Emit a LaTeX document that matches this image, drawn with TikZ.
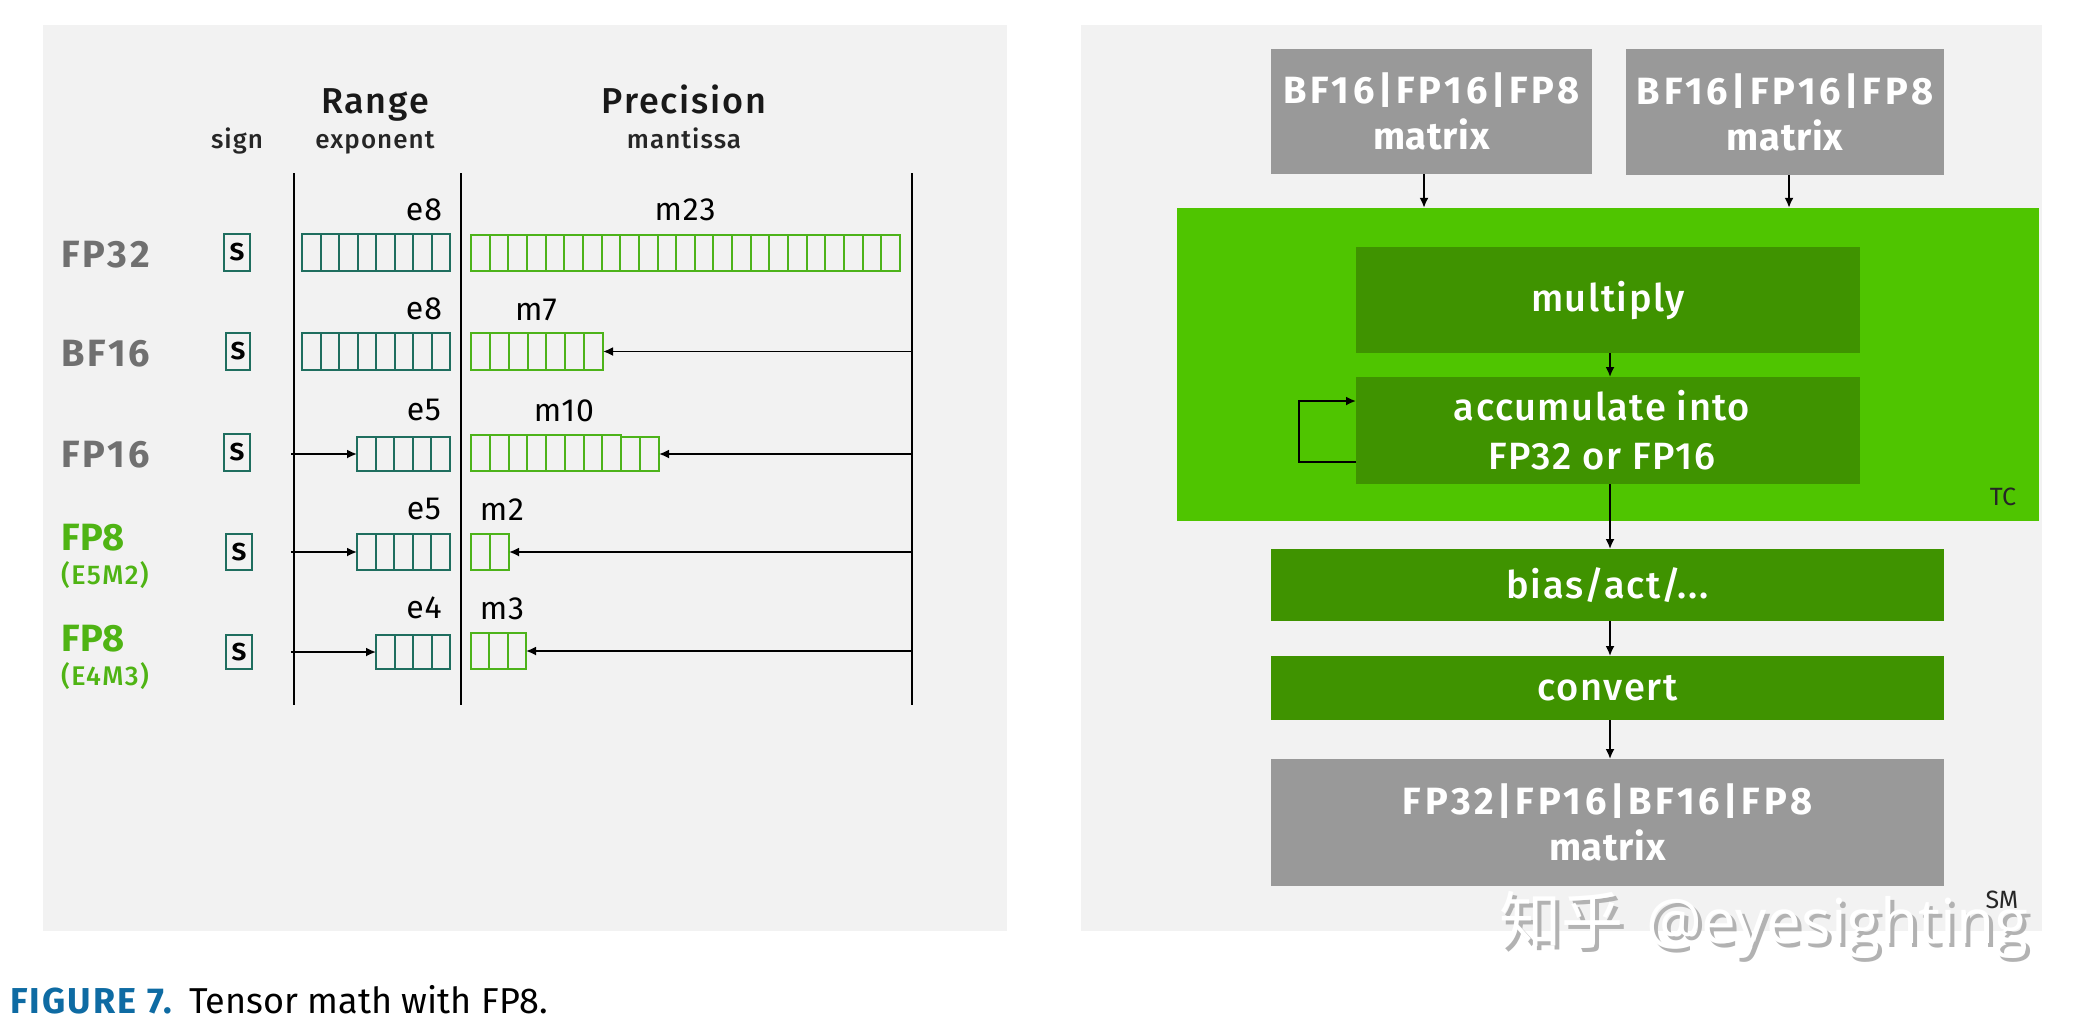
\documentclass[tikz,border=0pt]{standalone}
\usepackage{fontspec}
\setmainfont{Fira Sans}
\newfontfamily\medf{Fira Sans Medium}
\newfontfamily\cjkwm{Noto Sans CJK SC}
\newfontfamily\wmlatin{Open Sans}
\usetikzlibrary{arrows.meta,calc}
\definecolor{panelgray}{HTML}{F2F2F2}
\definecolor{tcgreen}{HTML}{4FC500}
\definecolor{darkgreen}{HTML}{3F9300}
\definecolor{blockgray}{HTML}{999999}
\definecolor{teal}{HTML}{1F6E5F}
\definecolor{mantgreen}{HTML}{4DB31A}
\definecolor{labelgray}{HTML}{707070}
\definecolor{labelgreen}{HTML}{4FB414}
\definecolor{capblue}{HTML}{0E6BA3}
\newcommand\fs[1]{\fontsize{#1}{#1}\selectfont}
\newcommand\ls[1]{\addfontfeature{LetterSpace=#1}}
\newcommand\wmtext{{\cjkwm 知乎}\hspace{23pt}{\wmlatin @eyesighting}}
\tikzset{
  x=1pt,y=-1pt,
  arr/.style={draw=black,line width=1.8pt,-{Latex[length=10pt,width=9pt]}},
  plain/.style={draw=black,line width=1.8pt},
  block/.style={inner sep=0pt,outer sep=0pt,text=white,align=center},
  grayblock/.style={block,fill=blockgray,font=\fs{38}\bfseries},
  greenblock/.style={block,fill=darkgreen,font=\fs{38}\medf\ls{4}},
  regline/.style={line width=2pt},
  rowlabel/.style={anchor=base west,inner sep=0pt,font=\fs{38}\bfseries\ls{8}},
  fplabel/.style={anchor=base west,inner sep=0pt,font=\fs{38}\bfseries\ls{1}},
  sublabel/.style={anchor=base west,inner sep=0pt,font=\fs{27}\medf\ls{5}},
  head/.style={anchor=base,inner sep=0pt,font=\fs{36}\medf\ls{5},text=black!90},
  subhead/.style={anchor=base,inner sep=0pt,font=\fs{26}\medf\ls{4},text=black!85},
  bits/.style={anchor=base,inner sep=0pt,font=\fs{32}\ls{3},text=black},
  signbox/.style={draw=teal,line width=2pt,inner sep=0pt,outer sep=0pt,font=\fs{32}\medf,text=black},
  tag/.style={anchor=base,inner sep=0pt,font=\fs{25},text=black!85},
}
% name, x1, y1, x2, y2, cells, colour
\newcommand\regbox[7]{%
  \pgfmathsetmacro\rw{#4-#2}\pgfmathsetmacro\rh{#5-#3}%
  \pgfmathsetmacro\rcx{(#2+#4)/2}\pgfmathsetmacro\rcy{(#3+#5)/2}%
  \node[draw=#7,regline,inner sep=0pt,outer sep=0pt,minimum width=\rw pt,minimum height=\rh pt] (#1) at (\rcx,\rcy) {};
  \foreach \k in {1,...,#6}{\pgfmathsetmacro\cx{#2+\k*(#4-#2)/#6}%
    \ifnum\k<#6\relax\draw[#7,regline] (\cx,#3) -- (\cx,#5);\fi}
}
% name, x1, y1, x2, y2, style, text
\newcommand\blockbox[7]{%
  \pgfmathsetmacro\rw{#4-#2}\pgfmathsetmacro\rh{#5-#3}%
  \pgfmathsetmacro\rcx{(#2+#4)/2}\pgfmathsetmacro\rcy{(#3+#5)/2}%
  \node[#6,minimum width=\rw pt,minimum height=\rh pt] (#1) at (\rcx,\rcy) {#7};
}
\newcommand\signcell[5]{%
  \pgfmathsetmacro\rw{#3-#2}\pgfmathsetmacro\rh{#5-#4}%
  \pgfmathsetmacro\rcx{(#2+#3)/2}\pgfmathsetmacro\rcy{(#4+#5)/2}%
  \node[signbox,minimum width=\rw pt,minimum height=\rh pt] (#1) at (\rcx,\rcy) {s};
}
\begin{document}
\begin{tikzpicture}
\useasboundingbox (0,0) rectangle (2083,1026);
\fill[white] (0,0) rectangle (2083,1026);
% panels
\fill[panelgray] (43,25) rectangle (1007,931);
\fill[panelgray] (1081,25) rectangle (2042,931);

% ---- left panel
\node[head] (hrange) at (375,113) {Range};
\node[head] (hprec) at (684,113) {Precision};
\node[subhead] (hsign) at (237,148) {sign};
\node[subhead] (hexp) at (375,148) {exponent};
\node[subhead] (hmant) at (684,148) {mantissa};

\coordinate (la) at (294,173); \coordinate (lb) at (294,705);
\coordinate (ma) at (461,173); \coordinate (mb) at (461,705);
\coordinate (ra) at (912,173); \coordinate (rb) at (912,705);
\draw[plain] (la) -- (lb);
\draw[plain] (ma) -- (mb);
\draw[plain] (ra) -- (rb);

\node[rowlabel,text=labelgray] (l1) at (61,267) {FP32};
\node[rowlabel,text=labelgray] (l2) at (61,366) {BF16};
\node[rowlabel,text=labelgray] (l3) at (61,467) {FP16};
\node[fplabel,text=labelgreen] (l4) at (61,550) {FP8};
\node[sublabel,text=labelgreen] (l4b) at (61,584) {(E5M2)};
\node[fplabel,text=labelgreen] (l5) at (61,651) {FP8};
\node[sublabel,text=labelgreen] (l5b) at (61,685) {(E4M3)};

\signcell{s1}{224}{250}{234}{271}
\signcell{s2}{226}{250}{333}{370}
\signcell{s3}{224}{250}{434}{471}
\signcell{s4}{226}{252}{534}{570}
\signcell{s5}{226}{252}{635}{669}

\regbox{e1}{302}{234}{450}{271}{8}{teal}
\regbox{e2}{302}{333}{450}{370}{8}{teal}
\regbox{e3}{357}{437}{450}{471}{5}{teal}
\regbox{e4}{357}{534}{450}{570}{5}{teal}
\regbox{e5}{376}{635}{450}{669}{4}{teal}

\regbox{m1}{471}{235}{900}{271}{23}{mantgreen}
\regbox{m2}{471}{333}{603}{370}{7}{mantgreen}
\regbox{m3a}{471}{435}{621}{471}{8}{mantgreen}
\regbox{m3}{621}{437}{659}{471}{2}{mantgreen}
\regbox{m4}{471}{534}{509}{570}{2}{mantgreen}
\regbox{m5}{471}{633}{526}{669}{3}{mantgreen}

\node[bits] (te1) at (424,220) {e8};
\node[bits] (te2) at (424,319) {e8};
\node[bits] (te3) at (424,420) {e5};
\node[bits] (te4) at (424,519) {e5};
\node[bits] (te5) at (424,618) {e4};
\node[bits] (tm1) at (685,220) {m23};
\node[bits] (tm2) at (536,320) {m7};
\node[bits] (tm3) at (564,421) {m10};
\node[bits] (tm4) at (502,520) {m2};
\node[bits] (tm5) at (502,619) {m3};

\draw[arr] ([xshift=-3pt]la |- e3.west) -- (e3.west);
\draw[arr] ([xshift=-3pt]la |- e4.west) -- (e4.west);
\draw[arr] ([xshift=-3pt]la |- e5.west) -- (e5.west);
\draw[arr] (ra |- m2.east) -- (m2.east);
\draw[arr] (ra |- m3.east) -- (m3.east);
\draw[arr] (ra |- m4.east) -- (m4.east);
\draw[arr] (ra |- m5.east) -- (m5.east);

% ---- right panel
\blockbox{in1}{1271}{49}{1592}{174}{grayblock}{{\ls{10}BF16|FP16|FP8}\\[8pt]{\ls{2}matrix}}
\blockbox{in2}{1626}{49}{1944}{175}{grayblock}{{\ls{10}BF16|FP16|FP8}\\[8pt]{\ls{2}matrix}}
\blockbox{tc}{1177}{208}{2039}{521}{fill=tcgreen}{}
\blockbox{mul}{1356}{247}{1860}{353}{greenblock}{\raisebox{-3pt}{multiply}}
\blockbox{acc}{1356}{377}{1860}{484}{greenblock}{\hspace*{-12pt}accumulate into\\[11pt]\hspace*{-12pt}FP32 or FP16}
\blockbox{bias}{1271}{549}{1944}{621}{greenblock}{bias/act/...}
\blockbox{conv}{1271}{656}{1944}{720}{greenblock}{\raisebox{-3pt}{convert}}
\blockbox{out}{1271}{759}{1944}{886}{grayblock}{{\ls{10}FP32|FP16|BF16|FP8}\\[8pt]{\ls{2}matrix}}
\node[tag] (ttc) at (2003,505) {TC};
\node[tag] (tsm) at (2002,908) {SM};

\coordinate (i1) at (1424,174); \coordinate (i2) at (1789,175);
\draw[arr] (i1) -- (i1 |- tc.north);
\draw[arr] (i2) -- (i2 |- tc.north);
\draw[arr] (mul.south -| 1610,0) -- (acc.north -| 1610,0);
\draw[arr] (acc.south -| 1610,0) -- (bias.north -| 1610,0);
\draw[arr] (bias.south -| 1610,0) -- (conv.north -| 1610,0);
\draw[arr] (conv.south -| 1610,0) -- (out.north -| 1610,0);
\coordinate (lu) at (1356,401); \coordinate (ld) at (1356,462);
\draw[arr] (ld) -- (1299,462) -- (1299,401) -- (lu);

% ---- watermark
\node[anchor=base west,inner sep=0pt,font=\fs{62},text=white] (wm) at (1499,943)
  {\makebox[0pt][l]{\hspace{4pt}\raisebox{-4pt}{\textcolor{black!30}{\wmtext}}}\wmtext};

% ---- caption
\node[anchor=base west,inner sep=0pt,font=\fs{36}] (cap) at (10,1013) {\textcolor{capblue}{\bfseries\ls{6}FIGURE 7.}\hspace{17pt}Tensor math with FP8.};
\end{tikzpicture}
\end{document}
